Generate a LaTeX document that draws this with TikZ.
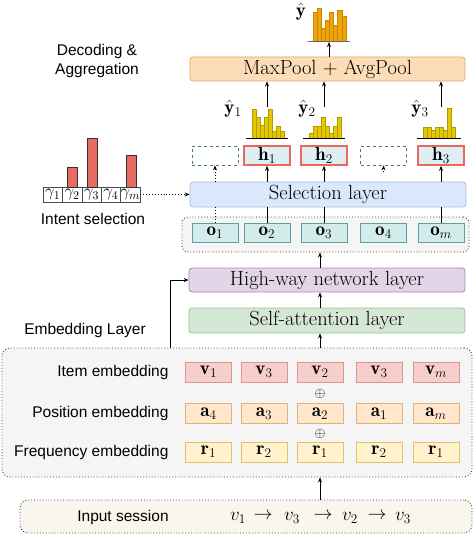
\RequirePackage{fix-cm}
\documentclass[tikz,border=0pt]{standalone}
\usepackage{fontspec}
\newfontfamily\sflab{Liberation Sans}
\usetikzlibrary{arrows.meta}
\definecolor{mpfill}{HTML}{FCDDB8}\definecolor{mpdraw}{HTML}{E0A868}
\definecolor{selfill}{HTML}{DAE8FC}\definecolor{seldraw}{HTML}{A7C0E0}
\definecolor{hwfill}{HTML}{E1D5E7}\definecolor{hwdraw}{HTML}{A98BB8}
\definecolor{safill}{HTML}{D5E8D4}\definecolor{sadraw}{HTML}{96C08A}
\definecolor{ofill}{HTML}{D2EBEB}\definecolor{odraw}{HTML}{5E9EA0}
\definecolor{hfill}{HTML}{DDEFF3}\definecolor{hdraw}{HTML}{E86862}
\definecolor{dashc}{HTML}{3F7F7F}
\definecolor{itfill}{HTML}{F8CECC}\definecolor{itdraw}{HTML}{D99593}
\definecolor{posfill}{HTML}{FFE6CC}\definecolor{posdraw}{HTML}{E3B277}
\definecolor{frfill}{HTML}{FFF2CC}\definecolor{frdraw}{HTML}{DDC272}
\definecolor{inpfill}{HTML}{F9F7ED}
\definecolor{contfill}{HTML}{F5F5F5}
\definecolor{topbar}{HTML}{F0A30A}\definecolor{topbard}{HTML}{C88700}
\definecolor{ybar}{HTML}{E3C800}\definecolor{ybard}{HTML}{B39A00}
\definecolor{gbar}{HTML}{EA6B66}
\tikzset{
  arr/.style={-{Stealth[length=5pt,width=4pt]}, line width=0.7pt},
  dotarr/.style={-{Stealth[length=5pt,width=4pt]}, dotted, line width=0.9pt},
  layer/.style={draw, rounded corners=3pt, line width=0.8pt, minimum width=276pt, minimum height=24pt, inner sep=0pt, font=\fontsize{20.5}{22}\selectfont},
  cell/.style={draw, line width=0.8pt, minimum width=46pt, minimum height=19pt, inner sep=0pt, font=\fontsize{19}{20}\selectfont},
  dcell/.style={draw=dashc, dashed, line width=0.8pt, minimum width=46pt, minimum height=19pt, inner sep=0pt},
  hcell/.style={cell, fill=hfill, draw=hdraw, line width=1.7pt},
  ocell/.style={cell, fill=ofill, draw=odraw},
  itcell/.style={cell, fill=itfill, draw=itdraw, minimum height=20pt},
  poscell/.style={cell, fill=posfill, draw=posdraw, minimum height=20pt},
  frcell/.style={cell, fill=frfill, draw=frdraw, minimum height=20pt},
  cont/.style={draw=black!75, dotted, line width=0.9pt, rounded corners=8pt, inner sep=0pt},
  lbl/.style={font=\sflab\fontsize{15.5}{19}\selectfont, text=black},
  yl/.style={font=\fontsize{19}{20}\selectfont, inner sep=0pt},
  seqt/.style={font=\fontsize{19}{20}\selectfont, inner sep=0pt},
  gcell/.style={draw=black!70, line width=0.6pt, fill=white, minimum width=19.4pt, minimum height=15pt, inner sep=0pt, font=\fontsize{17}{17}\selectfont},
}
\newcommand\histo[6]{%
  \foreach \hh [count=\ii from 0] in {#4} {
    \filldraw[fill=#5, draw=#6, line width=0.4pt] (#1+\ii*#3, #2) rectangle ++(#3, -\hh);
  }
}
\begin{document}
\begin{tikzpicture}[x=1pt, y=-1pt]
\useasboundingbox (0,0) rectangle (474,535);
% containers
\node[cont, fill=contfill, minimum width=470pt, minimum height=129pt] (emb) at (237,412.5) {};
\node[cont, fill=inpfill, minimum width=452pt, minimum height=33pt] (inp) at (246,516.5) {};
\node[cont, fill=contfill, minimum width=287pt, minimum height=35pt, rounded corners=6pt] (ocont) at (325.5,234.5) {};
% layers
\node[layer, fill=mpfill, draw=mpdraw, minimum width=275pt] (mp) at (327.5,69) {MaxPool + AvgPool};
\node[layer, fill=selfill, draw=seldraw, minimum height=25pt] (sel) at (328,194.5) {Selection layer};
\node[layer, fill=hwfill, draw=hwdraw] (hw) at (327,280) {High-way network layer};
\node[layer, fill=safill, draw=sadraw, minimum height=25pt] (sa) at (327,320.5) {Self-attention layer};
% h row
\node[dcell] (d1) at (215,155.5) {};
\node[hcell] (h1) at (267,155.5) {$\mathbf{h}_1$};
\node[hcell] (h2) at (324,155.5) {$\mathbf{h}_2$};
\node[dcell] (d2) at (383.5,155.5) {};
\node[hcell] (h3) at (441,155.5) {$\mathbf{h}_3$};
% o row
\node[ocell] (o1) at (215,232.5) {$\mathbf{o}_1$};
\node[ocell] (o2) at (267,232.5) {$\mathbf{o}_2$};
\node[ocell] (o3) at (324,232.5) {$\mathbf{o}_3$};
\node[ocell] (o4) at (383.5,232.5) {$\mathbf{o}_4$};
\node[ocell] (om) at (441,232.5) {$\mathbf{o}_m$};
% embedding rows
\node[itcell] (i1) at (208.5,372) {$\mathbf{v}_1$};
\node[itcell] (i2) at (264,372) {$\mathbf{v}_3$};
\node[itcell] (i3) at (320,372) {$\mathbf{v}_2$};
\node[itcell] (i4) at (379,372) {$\mathbf{v}_3$};
\node[itcell] (i5) at (436,372) {$\mathbf{v}_m$};
\node[poscell] (p1) at (208.5,413.5) {$\mathbf{a}_4$};
\node[poscell] (p2) at (264,413.5) {$\mathbf{a}_3$};
\node[poscell] (p3) at (320,413.5) {$\mathbf{a}_2$};
\node[poscell] (p4) at (379,413.5) {$\mathbf{a}_1$};
\node[poscell] (p5) at (436,413.5) {$\mathbf{a}_m$};
\node[frcell] (f1) at (208.5,452) {$\mathbf{r}_1$};
\node[frcell] (f2) at (264,452) {$\mathbf{r}_2$};
\node[frcell] (f3) at (320,452) {$\mathbf{r}_1$};
\node[frcell] (f4) at (379,452) {$\mathbf{r}_2$};
\node[frcell] (f5) at (436,452) {$\mathbf{r}_1$};
\node[font=\fontsize{14}{14}\selectfont, inner sep=0pt] (op1) at (320,393.5) {$\oplus$};
\node[font=\fontsize{14}{14}\selectfont, inner sep=0pt] (op2) at (320,433.5) {$\oplus$};
% labels
\node[lbl, anchor=east] (lit) at (172,372) {Item embedding};
\node[lbl, anchor=east] (lpo) at (172,413) {Position embedding};
\node[lbl, anchor=east] (lfr) at (172,452.5) {Frequency embedding};
\node[lbl] (lemb) at (85,330) {Embedding Layer};
\node[lbl] (linp) at (123,517) {Input session};
\node[seqt] (s1) at (238,518) {$v_1$};
\node[seqt] (s2) at (292,518) {$v_3$};
\node[seqt] (s3) at (350,518) {$v_2$};
\node[seqt] (s4) at (403,518) {$v_3$};
\node[seqt] (a1) at (263,516) {$\rightarrow$};
\node[seqt] (a2) at (323,516) {$\rightarrow$};
\node[seqt] (a3) at (377,516) {$\rightarrow$};
\node[lbl, align=center] (ldec) at (97,61) {Decoding \&\\Aggregation};
\node[lbl] (lint) at (93,219) {Intent selection};
% y hat labels
\node[yl] (yt) at (301,12) {$\hat{\mathbf{y}}$};
\node[yl] (y1) at (233,109) {$\hat{\mathbf{y}}_1$};
\node[yl] (y2) at (307,109) {$\hat{\mathbf{y}}_2$};
\node[yl] (y3) at (420,109) {$\hat{\mathbf{y}}_3$};
% histograms
\histo{313}{41}{4.1}{29,33,13,21,29,16,31,25}{topbar}{topbard}
\draw[black!60, line width=0.6pt] (308,41) -- (350,41);
\histo{252}{138}{4}{29,21,13,21,29,7,12,7}{ybar}{ybard}
\draw[black, line width=0.8pt] (246,138) -- (288,138);
\histo{309}{138}{4}{5,12,12,21,12,5,12,21}{ybar}{ybard}
\draw[black, line width=0.8pt] (303,138) -- (345,138);
\histo{423}{138}{4}{11,11,8,11,11,8,30,11}{ybar}{ybard}
\draw[black, line width=0.8pt] (417,138) -- (461,138);
% gamma
\foreach \g/\t [count=\k from 0] in {1/1,2/2,3/3,4/4,5/m} {
  \node[gcell] (g\g) at (52.7+\k*19.4,194.5) {$\gamma_{\t}$};
}
\filldraw[fill=gbar, draw=black!80, line width=0.6pt] (67.5,187) rectangle (77.5,167);
\filldraw[fill=gbar, draw=black!80, line width=0.6pt] (87,187) rectangle (97.5,138);
\filldraw[fill=gbar, draw=black!80, line width=0.6pt] (126,187) rectangle (136,155);
% coordinates
\coordinate (ctop) at (329,42);
\coordinate (c1) at (267,107);
\coordinate (c2) at (324,107);
\coordinate (c3) at (441,107);
\coordinate (ax) at (320,0);
\coordinate (ex) at (170,0);
\coordinate (d2a) at (383.5,172);
% connectors
\draw[arr] (mp.north -| ctop) -- (ctop);
\draw[arr] (c1) -- (c1 |- mp.south);
\draw[arr] (c2) -- (c2 |- mp.south);
\draw[arr] (c3) -- (c3 |- mp.south);
\draw[arr] (h1.south |- sel.north) -- (h1.south);
\draw[arr] (h2.south |- sel.north) -- (h2.south);
\draw[arr] (h3.south |- sel.north) -- (h3.south);
\draw[line width=0.7pt] (o2.north) -- (o2.north |- sel.south);
\draw[line width=0.7pt] (o3.north) -- (o3.north |- sel.south);
\draw[line width=0.7pt] (om.north) -- (om.north |- sel.south);
\draw[dotted, line width=0.9pt] (o1.north) -- (o1.north |- sel.south);
\draw[dotarr] (d1.south |- sel.north) -- (d1.south);
\draw[dotarr] (d2a) -- (d2.south);
\draw[dotarr] (g5.east) -- (sel.west);
\draw[arr] (hw.north -| ax) -- (ocont.south -| ax);
\draw[arr] (sa.north -| ax) -- (hw.south -| ax);
\draw[arr] (emb.north -| ax) -- (sa.south -| ax);
\draw[arr] (inp.north -| ax) -- (emb.south -| ax);
\draw[arr] (emb.north -| ex) |- (hw.west);
\end{tikzpicture}
\end{document}
